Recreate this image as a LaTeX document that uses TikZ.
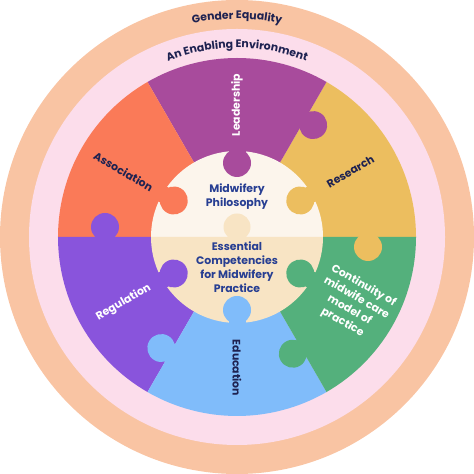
\documentclass[tikz,border=0pt]{standalone}
\usepackage{fontspec}
\setmainfont{Poppins}
\usepackage{tikz}
\usetikzlibrary{decorations.text}

\definecolor{peach}{HTML}{F9C4A3}
\definecolor{blush}{HTML}{FCDDEB}
\definecolor{lead}{HTML}{A84B9C}
\definecolor{resc}{HTML}{ECBE5F}
\definecolor{cont}{HTML}{54B07C}
\definecolor{educ}{HTML}{80BCFA}
\definecolor{regu}{HTML}{8954DC}
\definecolor{asso}{HTML}{FA7A58}
\definecolor{philbg}{HTML}{FCF5EC}
\definecolor{compbg}{HTML}{F8E4C4}
\definecolor{ink}{HTML}{1E2251}
\definecolor{corebl}{HTML}{273E92}

\newcommand{\labfont}{\fontsize{6.2}{8}\selectfont\bfseries}

\begin{document}
\begin{tikzpicture}[lab/.style={font=\labfont, inner sep=0pt, align=center},
 dark/.style={lab, text=ink}, light/.style={lab, text=white},
 core/.style={lab, text=corebl}]
 \useasboundingbox (-4.74,-4.74) rectangle (4.74,4.74);

 % rings
 \fill[peach] (0,0) circle (4.74);
 \fill[blush] (0,0) circle (4.16);

 % the six pieces
 \fill[resc] (0,0) -- (0:3.58) arc[start angle=0, end angle=60, radius=3.58] -- cycle;
 \fill[lead] (0,0) -- (60:3.58) arc[start angle=60, end angle=120, radius=3.58] -- cycle;
 \fill[asso] (0,0) -- (120:3.58) arc[start angle=120, end angle=180, radius=3.58] -- cycle;
 \fill[regu] (0,0) -- (180:3.58) arc[start angle=180, end angle=240, radius=3.58] -- cycle;
 \fill[educ] (0,0) -- (240:3.58) arc[start angle=240, end angle=300, radius=3.58] -- cycle;
 \fill[cont] (0,0) -- (300:3.58) arc[start angle=300, end angle=360, radius=3.58] -- cycle;

 % centre halves
 \fill[philbg] (1.72,0) arc[start angle=0, end angle=180, radius=1.72] -- cycle;
 \fill[compbg] (-1.72,0) arc[start angle=180, end angle=360, radius=1.72] -- cycle;
 \fill[compbg] (-0.17,-0.04) rectangle (0.17,0.20);
 \fill[compbg] (0,0.20) circle (0.27);

 % tabs between pieces
 \fill[lead, rotate=60] (2.53,0.04) rectangle (2.87,-0.20); \fill[lead, rotate=60] (2.70,-0.20) circle (0.28);
 \fill[resc] (2.45,0.04) rectangle (2.79,-0.20); \fill[resc] (2.62,-0.20) circle (0.28);
 \fill[cont, rotate=300] (2.41,0.04) rectangle (2.75,-0.20); \fill[cont, rotate=300] (2.58,-0.20) circle (0.28);
 \fill[educ, rotate=240] (2.51,0.04) rectangle (2.85,-0.20); \fill[educ, rotate=240] (2.68,-0.20) circle (0.28);
 \fill[regu, rotate=180] (2.47,0.04) rectangle (2.81,-0.20); \fill[regu, rotate=180] (2.64,-0.20) circle (0.28);

 % tabs into the centre
 \fill[lead, rotate=90] (1.78,-0.17) rectangle (1.48,0.17); \fill[lead, rotate=90] (1.48,0) circle (0.28);
 \fill[resc, rotate=30] (1.78,-0.17) rectangle (1.46,0.17); \fill[resc, rotate=30] (1.46,0) circle (0.28);
 \fill[asso, rotate=150] (1.78,-0.17) rectangle (1.46,0.17); \fill[asso, rotate=150] (1.46,0) circle (0.28);
 \fill[regu, rotate=210] (1.78,-0.17) rectangle (1.46,0.17); \fill[regu, rotate=210] (1.46,0) circle (0.28);
 \fill[educ, rotate=270] (1.78,-0.17) rectangle (1.46,0.17); \fill[educ, rotate=270] (1.46,0) circle (0.28);
 \fill[cont, rotate=330] (1.78,-0.17) rectangle (1.46,0.17); \fill[cont, rotate=330] (1.46,0) circle (0.28);

 % ring texts
 \path[decorate, decoration={text along path, text align=center, text color=ink,
   text={|\labfont|Gender Equality}}]
   (150:4.36) arc[start angle=150, end angle=30, radius=4.36];
 \path[decorate, decoration={text along path, text align=center, text color=ink,
   text={|\labfont|An Enabling Environment}}]
   (150:3.78) arc[start angle=150, end angle=30, radius=3.78];

 % piece labels
 \node[light, rotate=90] (leadlab) at (90:2.64) {Leadership};
 \node[dark, rotate=30] (reslab) at (30:2.62) {Research};
 \node[dark, rotate=-30] (assolab) at (150:2.62) {Association};
 \node[light, rotate=30] (regulab) at (210:2.62) {Regulation};
 \node[dark, rotate=-90] (educlab) at (270:2.62) {Education};
 \node[light, rotate=-30] (contlab) at (-30:2.68) {Continuity of\\midwife care\\model of\\practice};

 % centre labels
 \node[core] (phil) at (0,0.80) {Midwifery\\Philosophy};
 \node[core] (comp) at (0,-0.61) {Essential\\Competencies\\for Midwifery\\Practice};
\end{tikzpicture}
\end{document}
